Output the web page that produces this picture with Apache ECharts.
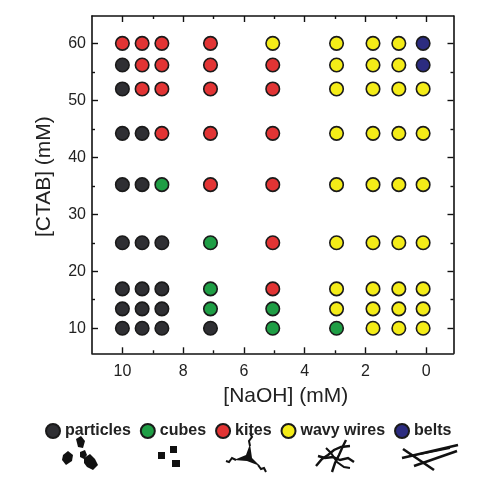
<!DOCTYPE html>
<html>
<head>
<meta charset="utf-8">
<script src="https://cdn.jsdelivr.net/npm/echarts@6/dist/echarts.min.js"></script>
<style>html,body{margin:0;padding:0;background:#fff}#c{width:480px;height:480px}</style>
</head>
<body>
<div id="c"></div>
<script>
// NaOH concentration columns (mM), left to right
const naoh = [10, 9.35, 8.7, 7.1, 5.05, 2.95, 1.75, 0.9, 0.1];
// CTAB concentration rows (mM), top to bottom
const ctab = [60, 56.2, 52, 44.2, 35.2, 25, 16.9, 13.4, 10];
// morphology codes per row (P particles, C cubes, K kites, W wavy wires, B belts)
const morph = [
  'KKKKWWWWB',
  'PKKKKWWWB',
  'PKKKKWWWW',
  'PPKKKWWWW',
  'PPCKKWWWW',
  'PPPCKWWWW',
  'PPPCKWWWW',
  'PPPCCWWWW',
  'PPPPCCWWW'
];
const classes = ['P', 'C', 'K', 'W', 'B'];
const classNames = ['particles', 'cubes', 'kites', 'wavy wires', 'belts'];
const xMajor = [0, 2, 4, 6, 8, 10];
const xMinor = [1, 3, 5, 7, 9];
const yMajor = [10, 20, 30, 40, 50, 60];
const yMinor = [15, 25, 35, 45, 55];

const colors = ['#2f2f33', '#1f9e45', '#e23434', '#f4ec18', '#2c2c80'];
const xMin = -0.9, xMax = 11, yMin = 5.6, yMax = 64.8;
const lineC = '#111';
const FONT = 'Liberation Sans, Arial, sans-serif';

function pts(code) {
  const out = [];
  morph.forEach((row, r) => {
    row.split('').forEach((c, i) => { if (c === code) out.push([naoh[i], ctab[r]]); });
  });
  return out;
}

function xAx(pos, major, showLine) {
  return {
    type: 'value', position: pos, min: xMin, max: xMax, inverse: true,
    axisLine: { show: showLine, onZero: false, lineStyle: { color: lineC, width: 1.6 } },
    axisTick: { show: true, inside: true, length: major ? 6 : 3, customValues: major ? xMajor : xMinor, lineStyle: { color: lineC, width: 1.4 } },
    axisLabel: { show: pos === 'bottom' && major, customValues: xMajor, fontSize: 16, color: '#222', margin: 10, fontFamily: FONT },
    splitLine: { show: false }
  };
}
function yAx(pos, major, showLine) {
  return {
    type: 'value', position: pos, min: yMin, max: yMax,
    axisLine: { show: showLine, onZero: false, lineStyle: { color: lineC, width: 1.6 } },
    axisTick: { show: true, inside: true, length: major ? 6 : 3, customValues: major ? yMajor : yMinor, lineStyle: { color: lineC, width: 1.4 } },
    axisLabel: { show: pos === 'left' && major, customValues: yMajor, fontSize: 16, color: '#222', margin: 6, fontFamily: FONT },
    splitLine: { show: false }
  };
}

const xAxes = [xAx('bottom', true, true), xAx('bottom', false, false), xAx('top', true, true), xAx('top', false, false)];
Object.assign(xAxes[0], {
  name: '[NaOH] (mM)', nameLocation: 'middle', nameGap: 32,
  nameTextStyle: { fontSize: 21, color: '#222', padding: [0, 0, 0, 26], fontFamily: FONT }
});
const yAxes = [yAx('left', true, true), yAx('left', false, false), yAx('right', true, true), yAx('right', false, false)];
Object.assign(yAxes[0], {
  name: '[CTAB] (mM)', nameLocation: 'middle', nameGap: 37,
  nameTextStyle: { fontSize: 21, color: '#222', padding: [0, 0, 0, 16], fontFamily: FONT }
});

const series = classes.map((c, k) => ({
  name: classNames[k], type: 'scatter', xAxisIndex: 0, yAxisIndex: 0,
  symbol: 'circle', symbolSize: 13.5,
  itemStyle: { color: colors[k], borderColor: '#1a1a1a', borderWidth: 1.6, opacity: 1 },
  data: pts(c)
}));

const K = '#111';
const graphic = [
  // particles
  { type: 'polygon', shape: { points: [[63,455],[68,451],[73,455],[72,461],[66,465],[62,460]] }, style: { fill: K } },
  { type: 'polygon', shape: { points: [[76,439],[81,436],[85,441],[83,448],[78,447]] }, style: { fill: K } },
  { type: 'polygon', shape: { points: [[80,452],[85,450],[87,455],[84,459],[80,457]] }, style: { fill: K } },
  { type: 'polygon', shape: { points: [[84,458],[90,454],[95,459],[98,465],[93,470],[87,467],[84,463]] }, style: { fill: K } },
  // cubes
  { type: 'rect', shape: { x: 158, y: 452, width: 7, height: 7 }, style: { fill: K } },
  { type: 'rect', shape: { x: 170, y: 446, width: 7, height: 7 }, style: { fill: K } },
  { type: 'rect', shape: { x: 172, y: 460, width: 8, height: 7 }, style: { fill: K } },
  // kites
  { type: 'polygon', shape: { points: [[250,444],[252,458],[260,466],[247,461],[234,460],[246,455]] }, style: { fill: K } },
  { type: 'polyline', shape: { points: [[250,446],[249,441],[252,437],[250,433]] }, style: { stroke: K, lineWidth: 2, fill: null } },
  { type: 'polyline', shape: { points: [[236,460],[232,458],[229,462],[226,461]] }, style: { stroke: K, lineWidth: 2, fill: null } },
  { type: 'polyline', shape: { points: [[258,465],[261,469],[264,468],[266,472]] }, style: { stroke: K, lineWidth: 2, fill: null } },
  // wavy wires
  { type: 'polyline', shape: { points: [[316,466],[322,459],[328,455],[334,450],[341,447],[350,446]] }, style: { stroke: K, lineWidth: 2.4, fill: null } },
  { type: 'polyline', shape: { points: [[318,456],[325,458],[333,457],[340,460],[348,458],[354,462]] }, style: { stroke: K, lineWidth: 2.4, fill: null } },
  { type: 'polyline', shape: { points: [[332,472],[335,463],[339,455],[343,446],[346,440]] }, style: { stroke: K, lineWidth: 2.4, fill: null } },
  { type: 'polyline', shape: { points: [[326,448],[331,453],[337,462],[344,467],[350,468]] }, style: { stroke: K, lineWidth: 2, fill: null } },
  // belts
  { type: 'line', shape: { x1: 402, y1: 458, x2: 458, y2: 445 }, style: { stroke: K, lineWidth: 2.6 } },
  { type: 'line', shape: { x1: 403, y1: 449, x2: 434, y2: 470 }, style: { stroke: K, lineWidth: 2.6 } },
  { type: 'line', shape: { x1: 414, y1: 466, x2: 457, y2: 451 }, style: { stroke: K, lineWidth: 2.6 } },
  { type: 'line', shape: { x1: 420, y1: 454, x2: 450, y2: 448 }, style: { stroke: K, lineWidth: 2 } }
];

const chart = echarts.init(document.getElementById('c'), null, { renderer: 'canvas' });
chart.setOption({
  backgroundColor: '#fff',
  animation: false,
  grid: { left: 92, right: 26.5, top: 16, bottom: 126.7, containLabel: false },
  xAxis: xAxes,
  yAxis: yAxes,
  legend: {
    left: 40, top: 418, itemWidth: 14, itemHeight: 14, itemGap: 9, icon: 'circle',
    textStyle: { fontSize: 16, fontWeight: 'bold', color: '#222', fontFamily: FONT },
    data: classNames
  },
  graphic: graphic,
  series: series
});
</script>
</body>
</html>
